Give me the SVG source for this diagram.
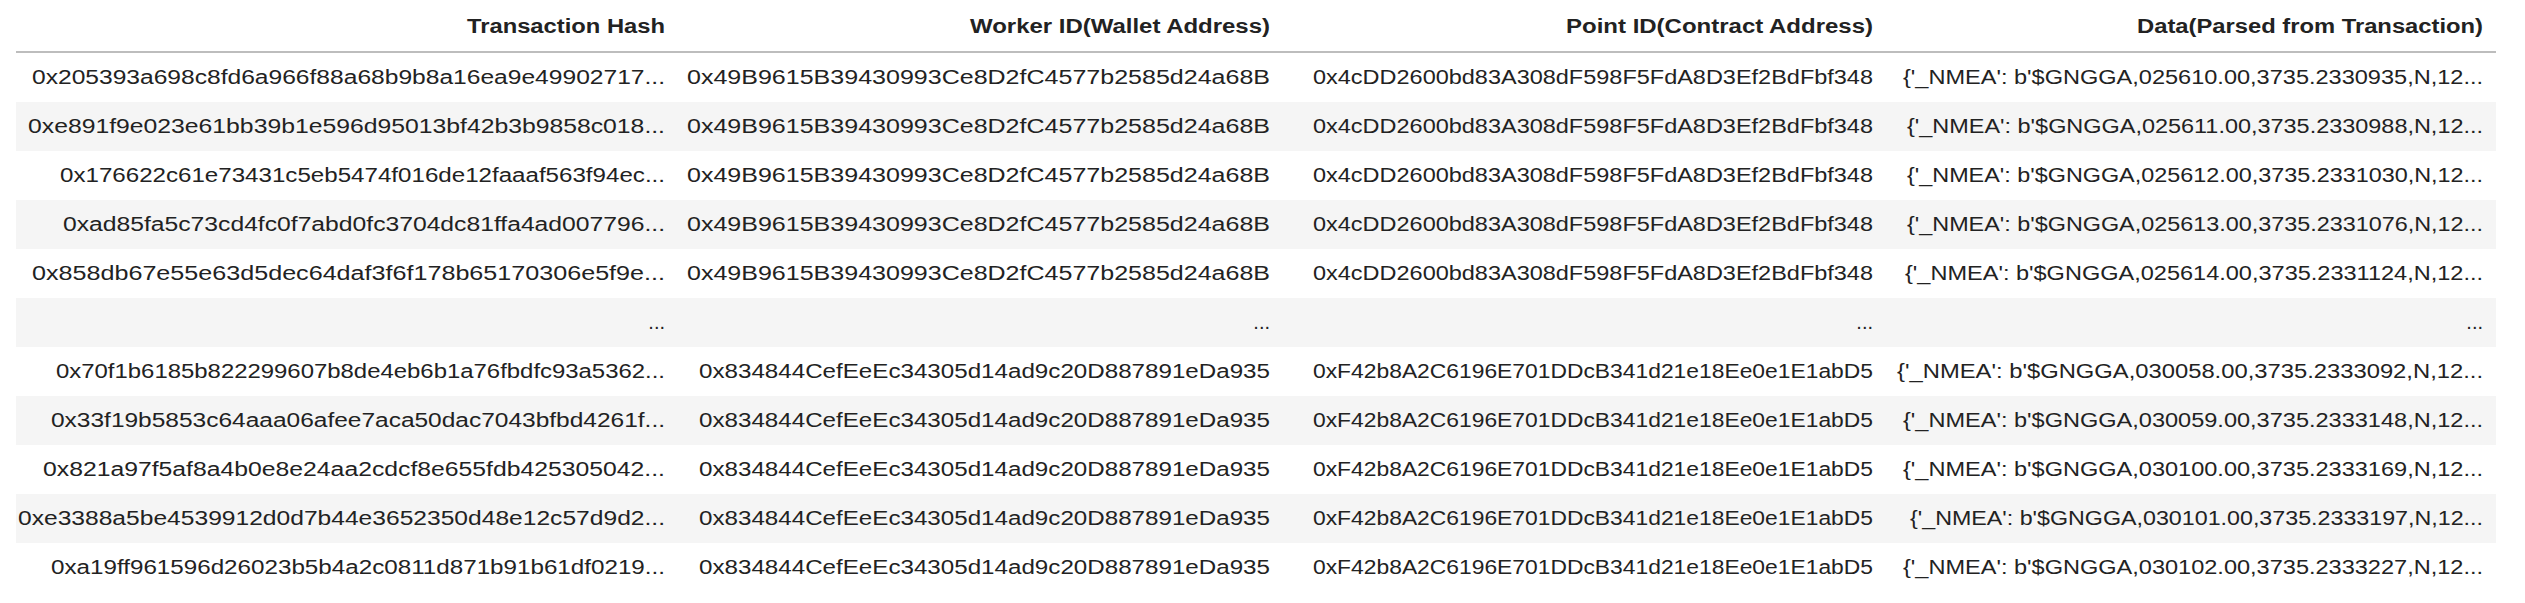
<svg xmlns="http://www.w3.org/2000/svg" width="2525" height="603" viewBox="0 0 2525 603">
<style>
text{font-family:"Liberation Sans",Arial,sans-serif;font-size:20px;fill:#222;text-anchor:end}
.h{font-weight:bold}
.s{fill:#f5f5f5}
</style>
<rect width="2525" height="603" fill="#fff"/>
<g id="stripes">
<rect class="s" x="16" y="102" width="2480" height="49"/>
<rect class="s" x="16" y="200" width="2480" height="49"/>
<rect class="s" x="16" y="298" width="2480" height="49"/>
<rect class="s" x="16" y="396" width="2480" height="49"/>
<rect class="s" x="16" y="494" width="2480" height="49"/>
</g>
<line x1="16" y1="52" x2="2496" y2="52" stroke="#bdbdbd" stroke-width="2"/>
<g id="header">
<text class="h" x="665" y="33" textLength="198" lengthAdjust="spacingAndGlyphs">Transaction Hash</text>
<text class="h" x="1270" y="33" textLength="300" lengthAdjust="spacingAndGlyphs">Worker ID(Wallet Address)</text>
<text class="h" x="1873" y="33" textLength="307" lengthAdjust="spacingAndGlyphs">Point ID(Contract Address)</text>
<text class="h" x="2483" y="33" textLength="346" lengthAdjust="spacingAndGlyphs">Data(Parsed from Transaction)</text>
</g>
<g id="rows">
<text x="665" y="84" textLength="633" lengthAdjust="spacingAndGlyphs">0x205393a698c8fd6a966f88a68b9b8a16ea9e49902717...</text>
<text x="1270" y="84" textLength="583" lengthAdjust="spacingAndGlyphs">0x49B9615B39430993Ce8D2fC4577b2585d24a68B</text>
<text x="1873" y="84" textLength="560" lengthAdjust="spacingAndGlyphs">0x4cDD2600bd83A308dF598F5FdA8D3Ef2BdFbf348</text>
<text x="2483" y="84" textLength="580" lengthAdjust="spacingAndGlyphs">{'_NMEA': b'$GNGGA,025610.00,3735.2330935,N,12...</text>

<text x="665" y="133" textLength="637" lengthAdjust="spacingAndGlyphs">0xe891f9e023e61bb39b1e596d95013bf42b3b9858c018...</text>
<text x="1270" y="133" textLength="583" lengthAdjust="spacingAndGlyphs">0x49B9615B39430993Ce8D2fC4577b2585d24a68B</text>
<text x="1873" y="133" textLength="560" lengthAdjust="spacingAndGlyphs">0x4cDD2600bd83A308dF598F5FdA8D3Ef2BdFbf348</text>
<text x="2483" y="133" textLength="576" lengthAdjust="spacingAndGlyphs">{'_NMEA': b'$GNGGA,025611.00,3735.2330988,N,12...</text>

<text x="665" y="182" textLength="605" lengthAdjust="spacingAndGlyphs">0x176622c61e73431c5eb5474f016de12faaaf563f94ec...</text>
<text x="1270" y="182" textLength="583" lengthAdjust="spacingAndGlyphs">0x49B9615B39430993Ce8D2fC4577b2585d24a68B</text>
<text x="1873" y="182" textLength="560" lengthAdjust="spacingAndGlyphs">0x4cDD2600bd83A308dF598F5FdA8D3Ef2BdFbf348</text>
<text x="2483" y="182" textLength="576" lengthAdjust="spacingAndGlyphs">{'_NMEA': b'$GNGGA,025612.00,3735.2331030,N,12...</text>

<text x="665" y="231" textLength="602" lengthAdjust="spacingAndGlyphs">0xad85fa5c73cd4fc0f7abd0fc3704dc81ffa4ad007796...</text>
<text x="1270" y="231" textLength="583" lengthAdjust="spacingAndGlyphs">0x49B9615B39430993Ce8D2fC4577b2585d24a68B</text>
<text x="1873" y="231" textLength="560" lengthAdjust="spacingAndGlyphs">0x4cDD2600bd83A308dF598F5FdA8D3Ef2BdFbf348</text>
<text x="2483" y="231" textLength="576" lengthAdjust="spacingAndGlyphs">{'_NMEA': b'$GNGGA,025613.00,3735.2331076,N,12...</text>

<text x="665" y="280" textLength="633" lengthAdjust="spacingAndGlyphs">0x858db67e55e63d5dec64daf3f6f178b65170306e5f9e...</text>
<text x="1270" y="280" textLength="583" lengthAdjust="spacingAndGlyphs">0x49B9615B39430993Ce8D2fC4577b2585d24a68B</text>
<text x="1873" y="280" textLength="560" lengthAdjust="spacingAndGlyphs">0x4cDD2600bd83A308dF598F5FdA8D3Ef2BdFbf348</text>
<text x="2483" y="280" textLength="578" lengthAdjust="spacingAndGlyphs">{'_NMEA': b'$GNGGA,025614.00,3735.2331124,N,12...</text>

<text x="665" y="329">...</text>
<text x="1270" y="329">...</text>
<text x="1873" y="329">...</text>
<text x="2483" y="329">...</text>

<text x="665" y="378" textLength="609" lengthAdjust="spacingAndGlyphs">0x70f1b6185b822299607b8de4eb6b1a76fbdfc93a5362...</text>
<text x="1270" y="378" textLength="571" lengthAdjust="spacingAndGlyphs">0x834844CefEeEc34305d14ad9c20D887891eDa935</text>
<text x="1873" y="378" textLength="560" lengthAdjust="spacingAndGlyphs">0xF42b8A2C6196E701DDcB341d21e18Ee0e1E1abD5</text>
<text x="2483" y="378" textLength="586" lengthAdjust="spacingAndGlyphs">{'_NMEA': b'$GNGGA,030058.00,3735.2333092,N,12...</text>

<text x="665" y="427" textLength="614" lengthAdjust="spacingAndGlyphs">0x33f19b5853c64aaa06afee7aca50dac7043bfbd4261f...</text>
<text x="1270" y="427" textLength="571" lengthAdjust="spacingAndGlyphs">0x834844CefEeEc34305d14ad9c20D887891eDa935</text>
<text x="1873" y="427" textLength="560" lengthAdjust="spacingAndGlyphs">0xF42b8A2C6196E701DDcB341d21e18Ee0e1E1abD5</text>
<text x="2483" y="427" textLength="580" lengthAdjust="spacingAndGlyphs">{'_NMEA': b'$GNGGA,030059.00,3735.2333148,N,12...</text>

<text x="665" y="476" textLength="622" lengthAdjust="spacingAndGlyphs">0x821a97f5af8a4b0e8e24aa2cdcf8e655fdb425305042...</text>
<text x="1270" y="476" textLength="571" lengthAdjust="spacingAndGlyphs">0x834844CefEeEc34305d14ad9c20D887891eDa935</text>
<text x="1873" y="476" textLength="560" lengthAdjust="spacingAndGlyphs">0xF42b8A2C6196E701DDcB341d21e18Ee0e1E1abD5</text>
<text x="2483" y="476" textLength="580" lengthAdjust="spacingAndGlyphs">{'_NMEA': b'$GNGGA,030100.00,3735.2333169,N,12...</text>

<text x="665" y="525" textLength="647" lengthAdjust="spacingAndGlyphs">0xe3388a5be4539912d0d7b44e3652350d48e12c57d9d2...</text>
<text x="1270" y="525" textLength="571" lengthAdjust="spacingAndGlyphs">0x834844CefEeEc34305d14ad9c20D887891eDa935</text>
<text x="1873" y="525" textLength="560" lengthAdjust="spacingAndGlyphs">0xF42b8A2C6196E701DDcB341d21e18Ee0e1E1abD5</text>
<text x="2483" y="525" textLength="573" lengthAdjust="spacingAndGlyphs">{'_NMEA': b'$GNGGA,030101.00,3735.2333197,N,12...</text>

<text x="665" y="574" textLength="614" lengthAdjust="spacingAndGlyphs">0xa19ff961596d26023b5b4a2c0811d871b91b61df0219...</text>
<text x="1270" y="574" textLength="571" lengthAdjust="spacingAndGlyphs">0x834844CefEeEc34305d14ad9c20D887891eDa935</text>
<text x="1873" y="574" textLength="560" lengthAdjust="spacingAndGlyphs">0xF42b8A2C6196E701DDcB341d21e18Ee0e1E1abD5</text>
<text x="2483" y="574" textLength="580" lengthAdjust="spacingAndGlyphs">{'_NMEA': b'$GNGGA,030102.00,3735.2333227,N,12...</text>
</g>
</svg>
